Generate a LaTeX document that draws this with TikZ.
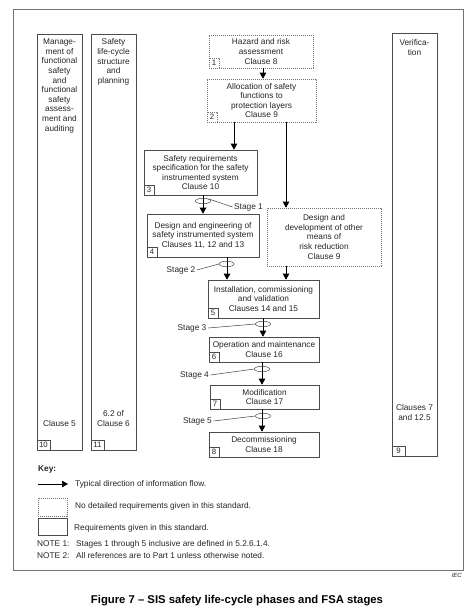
\documentclass[tikz,border=0pt]{standalone}
\usepackage{fontspec}
\setmainfont{Liberation Sans}
\usetikzlibrary{shapes.geometric,arrows.meta}
\begin{document}
\begin{tikzpicture}[x=1pt,y=-1pt,
  txt/.style={font=\fontsize{8.3}{9.6}\selectfont, text=black!85, align=center, inner sep=0pt},
  solidbox/.style={draw=black!70, line width=0.6pt, inner sep=0pt, align=center, font=\fontsize{8.3}{9.6}\selectfont, text=black!85},
  dashbox/.style={solidbox, draw=black!55, dash pattern=on 1.2pt off 0.8pt},
  numbox/.style={draw=black!70, line width=0.6pt, minimum width=10pt, minimum height=10pt, inner sep=0pt, font=\fontsize{7.8}{8}\selectfont, text=black!85, anchor=south west},
  dnumbox/.style={numbox, draw=black!55, dash pattern=on 1.2pt off 0.8pt},
  flow/.style={draw=black, line width=0.6pt, -{Triangle[length=6pt,width=6.5pt]}},
  ring/.style={ellipse, draw=black!75, line width=0.5pt, minimum width=15pt, minimum height=5.5pt, inner sep=0pt},
  thinline/.style={draw=black!75, line width=0.5pt}
]
\useasboundingbox (0,0) rectangle (474,614);
\fill[white] (0,0) rectangle (474,614);
\draw[draw=black!55, line width=0.9pt] (13,9) rectangle (463,570);

% side columns
\node[solidbox, minimum width=45pt, minimum height=416pt] (b10) at (59.5,242) {};
\node[solidbox, minimum width=45pt, minimum height=416pt] (b11) at (113.5,242) {};
\node[solidbox, minimum width=45pt, minimum height=423pt] (b9) at (414.5,244.5) {};
\node[txt, anchor=north] (t10) at ([yshift=-5pt]b10.north) {Manage-\\ment of\\functional\\safety\\and\\functional\\safety\\assess-\\ment and\\auditing};
\node[txt, anchor=north] (t11) at ([yshift=-5pt]b11.north) {Safety\\life-cycle\\structure\\and\\planning};
\node[txt, anchor=north] (t9) at ([yshift=-6.5pt]b9.north) {Verifica-\\tion};
\node[txt] (c10) at ([yshift=27pt]b10.south) {Clause 5};
\node[txt] (c11) at ([yshift=31.5pt]b11.south) {6.2 of\\Clause 6};
\node[txt] (c9) at ([yshift=44pt]b9.south) {Clauses 7\\and 12.5};
\node[numbox, minimum width=13pt] (n10) at (b10.south west) {10};
\node[numbox, minimum width=13pt] (n11) at (b11.south west) {11};
\node[numbox, minimum width=13pt] (n9) at (b9.south west) {9};

% main boxes
\node[dashbox, minimum width=104pt, minimum height=33pt] (b1) at (261,51.5) {Hazard and risk\\assessment\\Clause 8};
\node[dashbox, minimum width=109pt, minimum height=43pt] (b2) at (261.5,100.5) {Allocation of safety\\functions to\\protection layers\\Clause 9};
\node[solidbox, minimum width=113pt, minimum height=45pt] (b3) at (200.5,172.5) {Safety requirements\\specification for the safety\\instrumented system\\Clause 10};
\node[solidbox, minimum width=112pt, minimum height=43pt] (b4) at (203,235.5) {Design and engineering of\\safety instrumented system\\Clauses 11, 12 and 13};
\node[dashbox, minimum width=114pt, minimum height=58pt] (bo) at (324,237) {Design and\\development of other\\means of\\risk reduction\\Clause 9};
\node[solidbox, minimum width=111pt, minimum height=38pt] (b5) at (263.5,299) {Installation, commissioning\\and validation\\Clauses 14 and 15};
\node[solidbox, minimum width=110pt, minimum height=25pt] (b6) at (264,349.5) {Operation and maintenance\\Clause 16};
\node[solidbox, minimum width=109pt, minimum height=24pt] (b7) at (264.5,397) {Modification\\Clause 17};
\node[solidbox, minimum width=110pt, minimum height=25pt] (b8) at (264,444.5) {Decommissioning\\Clause 18};

\node[dnumbox] (n1) at (b1.south west) {1};
\node[dnumbox] (n2) at (b2.south west) {2};
\node[numbox] (n3) at (b3.south west) {3};
\node[numbox] (n4) at (b4.south west) {4};
\node[numbox] (n5) at (b5.south west) {5};
\node[numbox] (n6) at (b6.south west) {6};
\node[numbox] (n7) at (b7.south west) {7};
\node[numbox] (n8) at (b8.south west) {8};

% arrows
\draw[flow] ([xshift=2pt]b1.south) -- ([xshift=2pt]b1.south |- b2.north);
\draw[flow] ([xshift=-27.5pt]b2.south) -- ([xshift=-27.5pt]b2.south |- b3.north);
\draw[flow] ([xshift=24.5pt]b2.south) -- ([xshift=24.5pt]b2.south |- bo.north);
\draw[flow] ([xshift=2.5pt]b3.south) -- ([xshift=2.5pt]b3.south |- b4.north);
\draw[flow] ([xshift=24pt]b4.south) -- ([xshift=24pt]b4.south |- b5.north);
\draw[flow] ([xshift=-38pt]bo.south) -- ([xshift=-38pt]bo.south |- b5.north);
\draw[flow] ([xshift=-0.5pt]b5.south) -- ([xshift=-0.5pt]b5.south |- b6.north);
\draw[flow] ([xshift=-2pt]b6.south) -- ([xshift=-2pt]b6.south |- b7.north);
\draw[flow] ([xshift=-2.5pt]b7.south) -- ([xshift=-2.5pt]b7.south |- b8.north);

% stages
\node[ring] (e1) at (203,201) {};
\node[ring] (e2) at (226.5,264) {};
\node[ring] (e3) at (263,324) {};
\node[ring] (e4) at (262,369) {};
\node[ring] (e5) at (263,416) {};
\node[txt, anchor=west] (s1) at (234,207) {Stage 1};
\node[txt] (s2) at (181,270) {Stage 2};
\node[txt] (s3) at (192,328) {Stage 3};
\node[txt] (s4) at (194.5,375) {Stage 4};
\node[txt] (s5) at (197.5,421) {Stage 5};
\draw[thinline] (e1.north east) -- ([xshift=-1.5pt]s1.west);
\draw[thinline] ([xshift=1.5pt]s2.east) -- (e2.west);
\draw[thinline] ([xshift=1.5pt]s3.east) -- (e3.west);
\draw[thinline] ([xshift=1.5pt]s4.east) -- (e4.west);
\draw[thinline] ([xshift=1.5pt]s5.east) -- (e5.west);

% key
\node[txt, anchor=west, font=\fontsize{8.3}{9.6}\selectfont\bfseries] (key) at (38,469) {Key:};
\coordinate (k1) at (38,484);
\coordinate (k2) at (68,484);
\draw[flow] (k1) -- (k2);
\node[txt, anchor=west] (kt1) at (75,484) {Typical direction of information flow.};
\node[dashbox, minimum width=29pt, minimum height=18pt] (kd) at (52.5,507) {};
\node[txt, anchor=west] (kt2) at (75,506) {No detailed requirements given in this standard.};
\node[solidbox, minimum width=29pt, minimum height=17pt] (ks) at (52.5,526.5) {};
\node[txt, anchor=west] (kt3) at (74,528) {Requirements given in this standard.};
\node[txt, anchor=west] (nt1) at (37,544) {NOTE 1:};
\node[txt, anchor=west] (nt1b) at (76,544) {Stages 1 through 5 inclusive are defined in 5.2.6.1.4.};
\node[txt, anchor=west] (nt2) at (37,555.5) {NOTE 2:};
\node[txt, anchor=west] (nt2b) at (76,555.5) {All references are to Part 1 unless otherwise noted.};

\node[anchor=east, inner sep=0pt, font=\fontsize{6}{7}\selectfont\itshape, text=black!85] (iec) at (462,575) {IEC};
\node[inner sep=0pt, font=\fontsize{11.3}{13}\selectfont\bfseries] (cap) at (237,601) {Figure 7 – SIS safety life-cycle phases and FSA stages};
\end{tikzpicture}
\end{document}
